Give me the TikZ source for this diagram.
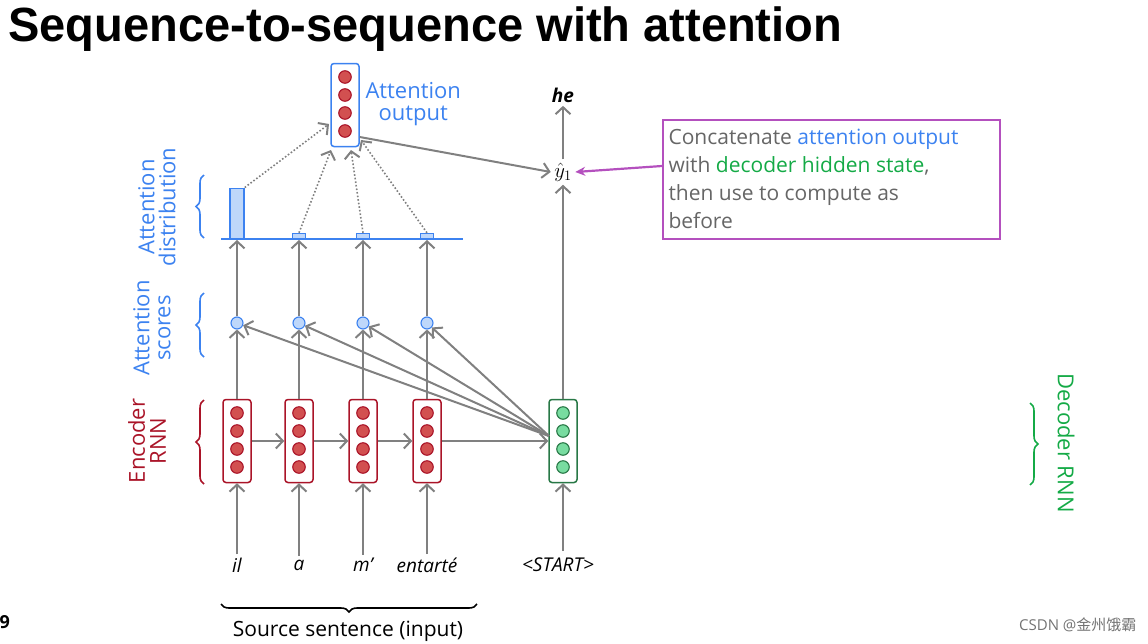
\documentclass[tikz,border=0pt]{standalone}
\usepackage{fontspec}
\setmainfont{Open Sans}
\newfontfamily\titlefont{Liberation Sans}
\newfontfamily\cjk{Noto Sans CJK SC}
\usetikzlibrary{decorations.pathreplacing,arrows.meta}
\definecolor{encred}{RGB}{170,20,40}
\definecolor{encfill}{RGB}{210,80,80}
\definecolor{decgreen}{RGB}{40,120,70}
\definecolor{decfill}{RGB}{120,220,160}
\definecolor{attblue}{RGB}{60,130,240}
\definecolor{attfill}{RGB}{190,215,250}
\definecolor{grn}{RGB}{20,170,70}
\definecolor{purp}{RGB}{180,80,190}
\definecolor{arr}{RGB}{128,128,128}
\begin{document}
\begin{tikzpicture}[x=1pt,y=-1pt,
  box/.style={draw,rounded corners=3pt,line width=1.5pt,minimum width=28pt,minimum height=83pt,inner sep=0},
  dot/.style={circle,draw,line width=1.1pt,minimum size=12.5pt,inner sep=0},
  sc/.style={circle,draw=attblue,fill=attfill,line width=1.1pt,minimum size=12pt,inner sep=0},
  a/.style={draw=arr,line width=2pt,-{Straight Barb[length=7pt,width=15pt,line width=2pt]}},
  dt/.style={draw=arr,line width=1.6pt,dotted,-{Straight Barb[length=7pt,width=15pt,line width=2pt]}},
  word/.style={font=\itshape\fontsize{19}{19}\selectfont},
  lab/.style={font=\fontsize{22}{24}\selectfont,align=center},
  br/.style={decorate,decoration={brace,amplitude=8pt},line width=1.6pt}]
\useasboundingbox (0,0) rectangle (1148,643);
\node[anchor=west,font=\titlefont\bfseries\fontsize{48}{48}\selectfont,xscale=0.98] (title) at (5,29) {Sequence-to-sequence with attention};
% encoder
\foreach \i/\x/\w in {1/237/il,2/299/a,3/363/m’,4/427/entarté}{
  \node[box,draw=encred] (e\i) at (\x,441) {};
  \foreach \k/\yy in {1/413,2/431,3/449,4/467} \node[dot,draw=encred,fill=encfill] at (\x,\yy) {};
  \node[sc] (s\i) at (\x,323) {};
  \coordinate (b\i) at (\x,240);
  \node[word] (w\i) at (\x,565) {\w};
  \draw[a] (w\i.north) -- (e\i.south);
  \draw[a] (e\i.north) -- (s\i.south);
  \draw[a] (s\i.north) -- (b\i);
}
% decoder
\node[box,draw=decgreen] (d) at (563,441) {};
\foreach \yy in {413,431,449,467} \node[dot,draw=decgreen,fill=decfill] at (563,\yy) {};
\node[font=\itshape\fontsize{19}{19}\selectfont] (st) at (558,565) {<START>};
\coordinate (stt) at (563,551);
\draw[a] (stt) -- (d.south);
\node[font=\fontsize{21}{21}\selectfont] (y) at (563,172) {$\hat{y}_1$};
\node[font=\itshape\bfseries\fontsize{19}{19}\selectfont] (he) at (563,95) {he};
\draw[a] (d.north) -- (y.south);
\draw[a] (y.north) -- (he.south);
% encoder chain
\draw[a] (e1.east|-0,441) -- (e2.west|-0,441);
\draw[a] (e2.east|-0,441) -- (e3.west|-0,441);
\draw[a] (e3.east|-0,441) -- (e4.west|-0,441);
\draw[a] (e4.east|-0,441) -- (d.west|-0,441);
\coordinate (dl) at (549,436);
\foreach \i in {1,...,4} \draw[a] (dl) -- (s\i);
% distribution
\draw[attblue,line width=2pt] (221,239) -- (463,239);
\node[draw=attblue,fill=attfill,line width=1.5pt,minimum width=14pt,minimum height=50pt,inner sep=0,anchor=south] (bar1) at (237,239) {};
\foreach \i/\x in {2/299,3/363,4/427} \node[draw=attblue,fill=attfill,line width=1.2pt,minimum width=13pt,minimum height=5pt,inner sep=0,anchor=south] (bar\i) at (\x,239) {};
% attention output
\node[box,draw=attblue] (ao) at (345,105) {};
\foreach \yy in {77,95,113,131} \node[dot,draw=encred,fill=encfill] at (345,\yy) {};
\node[lab,text=attblue,anchor=west] (aol) at (362,104) {Attention\\[-2pt]output};
\draw[dt] (bar1.north east) -- (329,124);
\draw[dt] (bar2.north) -- (331,150);
\draw[dt] (bar3.north) -- (351,150);
\draw[dt] (bar4.north) -- (361,140);
\draw[a] (ao.east|-0,137) -- (y.west);
% purple box
\node[draw=purp,line width=2pt,minimum width=337pt,minimum height=119pt,anchor=north west,inner sep=0] (pb) at (662,119) {};
\node[anchor=north west,align=left,text=black!60,font=\fontsize{21}{28}\selectfont] (pt) at (665,126) {Concatenate \textcolor{attblue}{attention output}\\with \textcolor{grn}{decoder hidden state},\\then use to compute as\\before};
\draw[purp,line width=2.2pt,-{Stealth[length=10pt,width=9pt]}] (pb.west|-0,166) -- (y.east);
% side labels
\node[lab,text=attblue,rotate=90] (l1) at (157,207) {Attention\\[-3pt]distribution};
\draw[br,attblue] (204,238) -- (204,175);
\node[lab,text=attblue,rotate=90] (l2) at (152,328) {Attention\\[-3pt]scores};
\draw[br,attblue] (204,357) -- (204,293);
\node[lab,text=encred,rotate=90] (l3) at (147,441) {Encoder\\[-3pt]RNN};
\draw[br,encred] (204,484) -- (204,400);
\node[lab,text=grn,rotate=-90] (l4) at (1066,443) {Decoder RNN};
\draw[br,grn] (1030,403) -- (1030,485);
% bottom
\draw[br,black] (477,604) -- (221,604);
\node[font=\fontsize{21}{21}\selectfont] (src) at (348,631) {Source sentence (input)};
\node[anchor=west,font=\bfseries\fontsize{18}{18}\selectfont] (pg) at (-4,622) {9};
\node[anchor=east,text=black!55,font=\fontsize{15}{15}\selectfont] (wm) at (1140,625) {CSDN @{\cjk 金州饿霸}};
\end{tikzpicture}
\end{document}
